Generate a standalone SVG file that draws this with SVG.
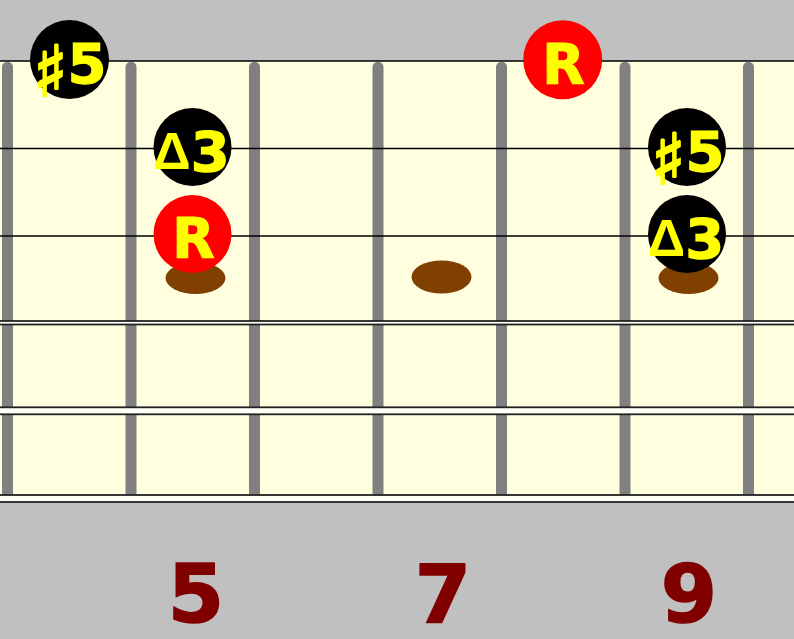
<svg xmlns="http://www.w3.org/2000/svg" width="794" height="639" viewBox="0 0 794 639">
<defs>
<style>
.fret{fill:#808080}
.thin{stroke:#000;stroke-width:1.5}
.thick{fill:#fffff8;stroke:#222;stroke-width:1.8}
.blk{fill:#000}
.red{fill:#ff0000}
.lbl{font-family:"DejaVu Sans","Verdana",sans-serif;font-weight:bold;fill:#ffff00;stroke:#ffff00;stroke-width:1.2;text-anchor:middle}
.sh{font-size:70px;stroke-width:2.6}
.dl{font-family:"Liberation Sans","Arial",sans-serif;font-size:52px;stroke-width:0}
.num{font-family:"DejaVu Sans","Verdana",sans-serif;font-weight:bold;fill:#800000;stroke:#800000;stroke-width:1.6;text-anchor:middle;font-size:81px}
.dot{fill:#804000}
</style>
</defs>
<rect x="0" y="0" width="794" height="639" fill="#c0c0c0"/>
<rect x="0" y="61" width="794" height="438" fill="#ffffe0"/>
<g id="frets">
<rect class="fret" x="2" y="62" width="11" height="436" rx="5"/>
<rect class="fret" x="125.5" y="62" width="11" height="436" rx="5"/>
<rect class="fret" x="249" y="62" width="11" height="436" rx="5"/>
<rect class="fret" x="372.5" y="62" width="11" height="436" rx="5"/>
<rect class="fret" x="496" y="62" width="11" height="436" rx="5"/>
<rect class="fret" x="619.5" y="62" width="11" height="436" rx="5"/>
<rect class="fret" x="743" y="62" width="11" height="436" rx="5"/>
</g>
<g id="strings">
<line class="thin" x1="0" y1="61" x2="794" y2="61"/>
<line class="thin" x1="0" y1="148.5" x2="794" y2="148.5"/>
<line class="thin" x1="0" y1="236" x2="794" y2="236"/>
<rect class="thick" x="-2" y="321" width="798" height="3.5"/>
<rect class="thick" x="-2" y="407.3" width="798" height="7"/>
<rect class="thick" x="-2" y="495" width="798" height="7"/>
</g>
<g id="markers">
<ellipse class="dot" cx="195.5" cy="278" rx="30" ry="16"/>
<ellipse class="dot" cx="441.5" cy="277" rx="30" ry="16.5"/>
<ellipse class="dot" cx="688.5" cy="278" rx="30" ry="16"/>
</g>
<g id="n-s5-top">
<circle class="blk" cx="69.5" cy="59.5" r="39.5"/>
<text class="lbl" x="70" y="83" font-size="56"><tspan class="sh" dy="13">♯</tspan><tspan dy="-13">5</tspan></text>
</g>
<g id="n-d3-left">
<circle class="blk" cx="192.5" cy="147" r="39"/>
<text class="lbl" x="191.5" y="171" font-size="56"><tspan class="dl" dy="-2">Δ</tspan><tspan dy="2">3</tspan></text>
</g>
<g id="n-r-left">
<circle class="red" cx="192.5" cy="234" r="39"/>
<text class="lbl" x="193.5" y="256.5" font-size="55">R</text>
</g>
<g id="n-r-top">
<circle class="red" cx="562.7" cy="59.7" r="39.5"/>
<text class="lbl" x="563.5" y="83" font-size="55">R</text>
</g>
<g id="n-s5-right">
<circle class="blk" cx="687" cy="147" r="39"/>
<text class="lbl" x="688" y="171" font-size="56"><tspan class="sh" dy="13">♯</tspan><tspan dy="-13">5</tspan></text>
</g>
<g id="n-d3-right">
<circle class="blk" cx="687" cy="234" r="39"/>
<text class="lbl" x="686" y="258" font-size="56"><tspan class="dl" dy="-2">Δ</tspan><tspan dy="2">3</tspan></text>
</g>
<g id="fret-numbers">
<text class="num" x="196" y="621.5">5</text>
<text class="num" x="443" y="621.5">7</text>
<text class="num" x="689" y="621.5">9</text>
</g>
</svg>
